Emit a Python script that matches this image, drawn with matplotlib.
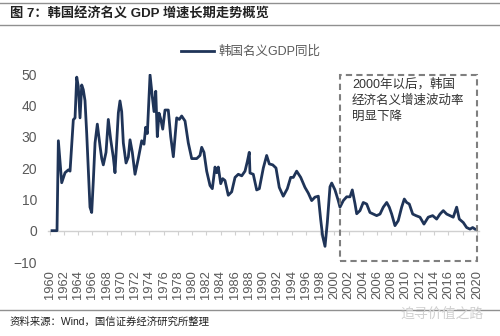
import matplotlib
matplotlib.use("Agg")
import matplotlib.pyplot as plt
from matplotlib.patches import Rectangle
from matplotlib.lines import Line2D

plt.rcParams['font.family'] = ['Liberation Sans', 'Noto Sans CJK SC', 'DejaVu Sans']

# ---- data ----
years = [1960.35, 1961.05, 1961.24, 1961.71, 1962.18, 1962.64, 1962.88, 1963.34, 1963.58, 1963.82,
         1964.04, 1964.28, 1964.52, 1964.74, 1964.98, 1965.22, 1965.45, 1965.68, 1965.92, 1966.15,
         1966.39, 1966.71, 1967.09, 1967.33, 1967.55, 1967.93, 1968.25, 1968.59, 1968.95, 1969.19,
         1969.43, 1969.66, 1969.89, 1970.13, 1970.36, 1970.74, 1971.06, 1971.30, 1971.62, 1972.00,
         1972.46, 1972.94, 1973.26, 1973.50, 1973.73, 1974.11, 1974.43, 1974.67, 1974.91, 1975.13,
         1975.37, 1975.61, 1975.89, 1976.21, 1976.67, 1977.01, 1977.38, 1977.85, 1978.22, 1978.55,
         1979.02, 1979.48, 1979.96, 1980.66, 1981.12, 1981.36, 1981.68, 1982.06, 1982.53, 1982.85,
         1983.23, 1983.47, 1983.69, 1984.03, 1984.31, 1984.63, 1985.09, 1985.57, 1986.04, 1986.50,
         1986.98, 1987.44, 1987.76, 1988.04, 1988.14, 1988.60, 1989.08, 1989.45, 1990.01, 1990.48,
         1990.85, 1991.33, 1991.79, 1992.25, 1992.81, 1993.38, 1993.85, 1994.22, 1994.69, 1995.26,
         1995.86, 1996.32, 1996.80, 1997.26, 1997.73, 1998.06, 1998.34, 1998.67, 1998.99, 1999.37,
         1999.61, 2000.07, 2000.53, 2000.77, 2001.24, 2001.71, 2002.18, 2002.50, 2002.88, 2003.12,
         2003.58, 2004.04, 2004.52, 2004.98, 2005.45, 2005.92, 2006.39, 2006.85, 2007.33, 2007.69,
         2008.03, 2008.49, 2008.95, 2009.43, 2009.80, 2010.13, 2010.50, 2010.98, 2011.44, 2012.00,
         2012.56, 2013.16, 2013.78, 2014.34, 2014.81, 2015.27, 2015.75, 2016.21, 2016.67, 2017.15,
         2017.52, 2018.08, 2018.55, 2019.02, 2019.40, 2019.72]
gdp_yoy = [0.0, 0.0, 28.7, 15.3, 18.5, 19.4, 19.0, 35.4, 36.0, 49.0,
           46.0, 36.0, 46.5, 45.0, 41.5, 31.0, 19.0, 7.5, 5.8, 16.0,
           28.0, 34.0, 27.0, 23.0, 21.0, 25.0, 35.5, 29.0, 23.5, 18.5,
           28.0, 37.6, 41.4, 38.0, 28.0, 21.6, 23.5, 29.0, 25.0, 18.0,
           23.0, 28.7, 27.6, 33.0, 31.0, 49.7, 42.7, 38.0, 44.5, 30.0,
           37.5, 35.6, 32.4, 38.5, 38.5, 30.0, 23.6, 36.0, 35.5, 36.6,
           35.0, 28.0, 23.0, 23.0, 24.0, 26.6, 25.0, 19.0, 14.4, 13.4,
           20.3, 18.5, 20.3, 15.0, 16.6, 16.0, 11.3, 12.4, 17.0, 18.0,
           17.5, 19.0, 22.0, 25.0, 18.4, 18.0, 13.0, 13.4, 20.0, 24.0,
           21.3, 21.0, 20.0, 13.8, 11.0, 13.4, 17.0, 17.0, 19.0, 17.0,
           13.8, 12.0, 9.6, 10.7, 11.0, 3.6, -1.8, -5.0, 2.5, 14.0,
           15.2, 13.0, 9.6, 7.5, 9.6, 10.8, 10.8, 13.0, 8.6, 5.4,
           6.4, 9.0, 8.5, 5.8, 5.3, 4.8, 5.3, 7.5, 9.0, 7.5,
           5.3, 1.6, 3.2, 7.5, 10.1, 9.0, 8.5, 5.3, 4.8, 4.3,
           2.1, 4.3, 4.8, 3.7, 5.3, 6.4, 5.3, 4.8, 4.3, 7.5,
           3.7, 2.6, 1.0, 0.5, 1.0, 0.5]
series_name = '韩国名义GDP同比'
tick_years = list(range(1960, 2021, 2))
y_ticks = [-10, 0, 10, 20, 30, 40, 50]
box_years = [2000.8, 2020.0]
box_values = [-9.6, 49.7]
note = '2000年以后，韩国\n经济名义增速波动率\n明显下降'
title = '图 7：韩国经济名义 GDP 增速长期走势概览'
source = '资料来源：Wind，国信证券经济研究所整理'

# ---- figure ----
W, H = 500, 336
fig = plt.figure(figsize=(W / 100, H / 100), dpi=100)
ax = fig.add_axes([48.1 / W, (H - 262) / H, 431 / W, 188 / H])
ax.set_xlim(1959.8, 2020.3)
ax.set_ylim(-10, 50)

line_color = '#1f3458'
ax.plot(years, gdp_yoy, color=line_color, lw=2.0, solid_joinstyle='round', zorder=3)

for s in ['top', 'right', 'left']:
    ax.spines[s].set_visible(False)
ax.spines['bottom'].set_position(('data', 0))
ax.spines['bottom'].set_color('#d0d0d0')
ax.spines['bottom'].set_linewidth(1.0)
ax.set_xticks(tick_years)
ax.tick_params(axis='x', direction='out', length=3, color='#d0d0d0', labelbottom=False)
ax.set_yticks(y_ticks)
ax.tick_params(axis='y', length=0, pad=8, labelsize=10, labelcolor='#595959')

sec = ax.secondary_xaxis(0)
sec.set_xticks(tick_years)
sec.set_xticklabels([str(y) for y in tick_years], rotation=90)
sec.spines['bottom'].set_visible(False)
sec.tick_params(axis='x', length=0, pad=6, labelsize=9.3, labelcolor='#595959')

# dashed annotation box
rect = Rectangle((box_years[0], box_values[0]), box_years[1] - box_years[0],
                 box_values[1] - box_values[0], fill=False, edgecolor='#7f7f7f',
                 lw=1.5, linestyle=(0, (3, 2)), clip_on=False, zorder=4)
ax.add_patch(rect)
fig.text(352 / W, 1 - 78 / H, note, fontsize=9, color='#333333', va='top', ha='left',
         linespacing=1.45)

# legend
leg_handle = Line2D([], [], color=line_color, lw=2)
fig.legend([leg_handle], [series_name], loc='center', bbox_to_anchor=(251 / W, 1 - 52 / H),
           frameon=False, fontsize=9, labelcolor='#595959', handlelength=2.6,
           handletextpad=0.4)

# title and rules
fig.add_artist(Line2D([0, 1], [1 - 3 / H, 1 - 3 / H], color='#909090', lw=1.0))
fig.add_artist(Line2D([0, 1], [1 - 25 / H, 1 - 25 / H], color='#909090', lw=1.0))
fig.text(10 / W, 1 - 14 / H, title, fontsize=9.5, fontweight='bold', color='#222222',
         va='center', ha='left')
fig.add_artist(Line2D([0, 1], [1 - 310 / H, 1 - 310 / H], color='#909090', lw=1.0))
fig.text(10 / W, 1 - 322 / H, source, fontsize=7.5, color='#222222', va='center', ha='left')
fig.text(484 / W, 1 - 314 / H, '追寻价值之路', fontsize=10, color='#d0d0d0', va='center',
         ha='right')

fig.savefig('out.png', dpi=100)
